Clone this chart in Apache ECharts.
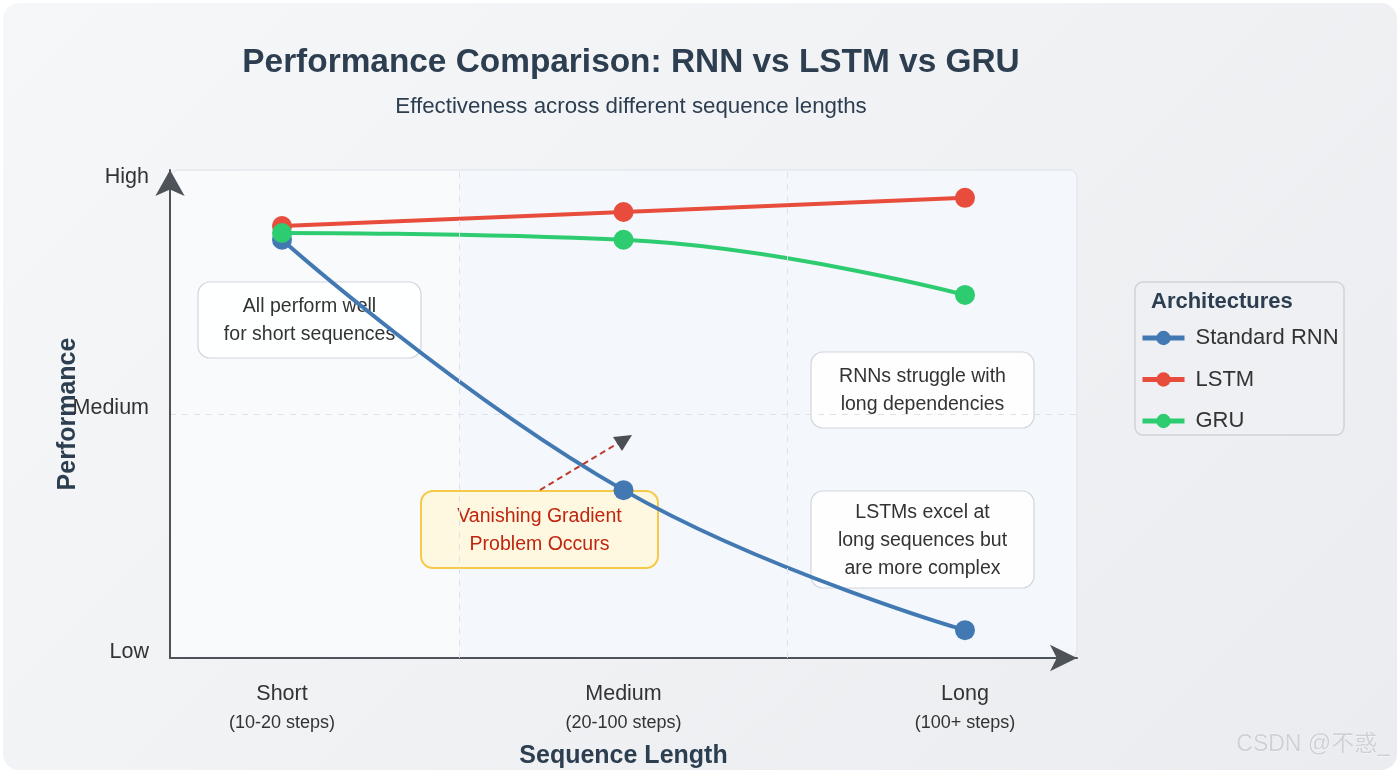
<!DOCTYPE html>
<html>
<head>
<meta charset="utf-8">
<script src="https://cdn.jsdelivr.net/npm/echarts@6/dist/echarts.min.js"></script>
<style>
  html, body { margin: 0; padding: 0; background: #ffffff; }
  .wrap {
    position: absolute; left: 3px; top: 3px;
    width: 1394px; height: 767px;
    border-radius: 16px;
    background: linear-gradient(135deg, #f6f7f9 0%, #eaecef 100%);
    overflow: hidden;
  }
  #chart { width: 1394px; height: 767px; }
</style>
</head>
<body>
<div class="wrap"><div id="chart"></div></div>
<script>
// data
var categories = ['Short', 'Medium', 'Long'];
var stepLabels = ['(10-20 steps)', '(20-100 steps)', '(100+ steps)'];
var levelLabels = { 0: 'Low', 50: 'Medium', 100: 'High' };
var rnnValues = [85.7, 34.4, 5.7];
var lstmValues = [88.5, 91.4, 94.3];
var gruValues = [87.1, 85.7, 74.4];

var FONT = '"Liberation Sans", Arial, sans-serif';

function pairs(vals) {
  return vals.map(function (v, i) { return [i, v]; });
}

function lineSeries(name, color, vals) {
  return {
    name: name,
    type: 'line',
    smooth: 0.45,
    symbol: 'circle',
    symbolSize: 20,
    z: 3,
    lineStyle: { color: color, width: 4 },
    itemStyle: { color: color },
    data: pairs(vals)
  };
}

// offsets so chart coords = page coords - 3
var OX = -3, OY = -3;

function noteBox(x, y, w, h, lines, opts) {
  opts = opts || {};
  return {
    type: 'group',
    z: 50,
    children: [
      {
        type: 'rect',
        shape: { x: x + OX, y: y + OY, width: w, height: h, r: 12 },
        style: {
          fill: opts.fill || 'rgba(255,255,255,0.86)',
          stroke: opts.stroke || '#cfd6de',
          lineWidth: opts.lineWidth || 1.2
        }
      },
      {
        type: 'text',
        style: {
          x: x + OX + w / 2,
          y: y + OY + h / 2 + 1,
          text: lines.join('\n'),
          align: 'center',
          verticalAlign: 'middle',
          font: '19.5px ' + FONT,
          lineHeight: 28,
          fill: opts.color || '#333333'
        }
      }
    ]
  };
}

var myChart = echarts.init(document.getElementById('chart'));

var option = {
  animation: false,
  title: {
    text: 'Performance Comparison: RNN vs LSTM vs GRU',
    subtext: 'Effectiveness across different sequence lengths',
    left: 623,
    top: 38,
    textAlign: 'center',
    itemGap: 17,
    textStyle: { fontFamily: FONT, fontSize: 33.4, fontWeight: 'bold', color: '#2c3e50' },
    subtextStyle: { fontFamily: FONT, fontSize: 22.3, color: '#2c3e50' }
  },
  legend: {
    data: ['Standard RNN', 'LSTM', 'GRU'],
    orient: 'vertical',
    left: 1132,
    top: 319,
    itemWidth: 42,
    itemHeight: 18,
    itemGap: 19.5,
    lineStyle: { width: 5 },
    textStyle: { fontFamily: FONT, fontSize: 22, color: '#333333', padding: [0, 0, 0, 6] }
  },
  grid: {
    left: 167,
    right: 320,
    top: 167,
    bottom: 112,
    outerBoundsMode: 'none'
  },
  xAxis: {
    type: 'value',
    min: -0.328,
    max: 2.328,
    name: 'Sequence Length',
    nameLocation: 'middle',
    nameGap: 86,
    nameTextStyle: { fontFamily: FONT, fontSize: 25, fontWeight: 'bold', color: '#2c3e50' },
    axisLine: {
      show: true,
      onZero: false,
      symbol: ['none', 'arrow'],
      symbolSize: [20, 27],
      symbolOffset: [0, 0],
      lineStyle: { color: '#4d5359', width: 2 }
    },
    axisTick: { show: false },
    splitLine: { show: false },
    axisLabel: {
      customValues: [0, 1, 2],
      margin: 22,
      formatter: function (v) {
        var i = Math.round(v);
        return '{a|' + categories[i] + '}\n{b|' + stepLabels[i] + '}';
      },
      rich: {
        a: { fontFamily: FONT, fontSize: 21.5, color: '#333333', lineHeight: 29 },
        b: { fontFamily: FONT, fontSize: 18, color: '#333333', lineHeight: 29 }
      }
    }
  },
  yAxis: {
    type: 'value',
    min: 0,
    max: 100,
    interval: 50,
    name: 'Performance',
    nameLocation: 'middle',
    nameGap: 89,
    nameMoveOverlap: false,
    nameTextStyle: { fontFamily: FONT, fontSize: 25, fontWeight: 'bold', color: '#2c3e50' },
    axisLine: {
      show: true,
      onZero: false,
      symbol: ['none', 'arrow'],
      symbolSize: [22, 26],
      symbolOffset: [0, 0],
      lineStyle: { color: '#4d5359', width: 2 }
    },
    axisTick: { show: false },
    splitLine: {
      show: true,
      showMinLine: false,
      showMaxLine: false,
      lineStyle: { color: '#dfe3e8', type: [6, 6], width: 1 }
    },
    axisLabel: {
      margin: 21,
      formatter: function (v) {
        var t = levelLabels[v] || '';
        return v === 100 ? '{hi|' + t + '}' : '{lo|' + t + '}';
      },
      rich: {
        hi: { fontFamily: FONT, fontSize: 21.5, color: '#333333', padding: [15, 0, 0, 0] },
        lo: { fontFamily: FONT, fontSize: 21.5, color: '#333333', padding: [0, 0, 11, 0] }
      }
    }
  },
  graphic: [
    // plot background panel
    {
      type: 'rect',
      z: -10,
      silent: true,
      shape: { x: 170 + OX, y: 170 + OY, width: 907, height: 488, r: 8 },
      style: { fill: '#f4f7fb', stroke: '#dde3ea', lineWidth: 1 }
    },
    {
      type: 'rect',
      z: -9,
      silent: true,
      shape: { x: 171 + OX, y: 171 + OY, width: 288, height: 486, r: [7, 0, 0, 0] },
      style: { fill: '#f9fafb' }
    },
    // legend panel
    {
      type: 'rect',
      z: -5,
      shape: { x: 1135 + OX, y: 282 + OY, width: 209, height: 153, r: 8 },
      style: { fill: '#eef0f3', stroke: '#cdd3da', lineWidth: 1.5 }
    },
    {
      type: 'text',
      z: 60,
      style: {
        x: 1151 + OX, y: 302 + OY,
        text: 'Architectures',
        verticalAlign: 'middle',
        font: 'bold 22px ' + FONT,
        fill: '#2c3e50'
      }
    },
    noteBox(198, 282, 223, 76, ['All perform well', 'for short sequences']),
    noteBox(811, 352, 223, 76, ['RNNs struggle with', 'long dependencies']),
    noteBox(811, 491, 223, 97, ['LSTMs excel at', 'long sequences but', 'are more complex']),
    // dashed arrow
    {
      type: 'line',
      z: 40,
      shape: { x1: 540 + OX, y1: 490 + OY, x2: 620 + OX, y2: 442 + OY },
      style: { stroke: '#c0392b', lineWidth: 2, lineDash: [6, 4] }
    },
    {
      type: 'polygon',
      z: 40,
      shape: { points: [[632 + OX, 435 + OY], [613 + OX, 437 + OY], [622 + OX, 451 + OY]] },
      style: { fill: '#4a4f55' }
    },
    noteBox(421, 491, 237, 77, ['Vanishing Gradient', 'Problem Occurs'], {
      fill: '#fff8e1', stroke: '#f7c948', lineWidth: 2, color: '#c0250f'
    }),
    // watermark
    {
      type: 'text',
      z: 60,
      style: {
        x: 1390 + OX, y: 745 + OY,
        text: 'CSDN @不惑_',
        align: 'right',
        verticalAlign: 'middle',
        font: '23px "Liberation Sans", "Noto Sans CJK SC", sans-serif',
        fill: '#cdd1d6',
        stroke: '#ffffff',
        lineWidth: 0.5
      }
    }
  ],
  series: [
    {
      type: 'line',
      data: [],
      silent: true,
      z: 1,
      markLine: {
        silent: true,
        symbol: 'none',
        label: { show: false },
        lineStyle: { color: '#dfe3e8', type: [6, 6], width: 1 },
        data: [{ xAxis: 0.518 }, { xAxis: 1.479 }]
      }
    },
    lineSeries('Standard RNN', '#4279b3', rnnValues),
    lineSeries('LSTM', '#e74c3c', lstmValues),
    lineSeries('GRU', '#2ecc71', gruValues)
  ]
};

myChart.setOption(option);
</script>
</body>
</html>
